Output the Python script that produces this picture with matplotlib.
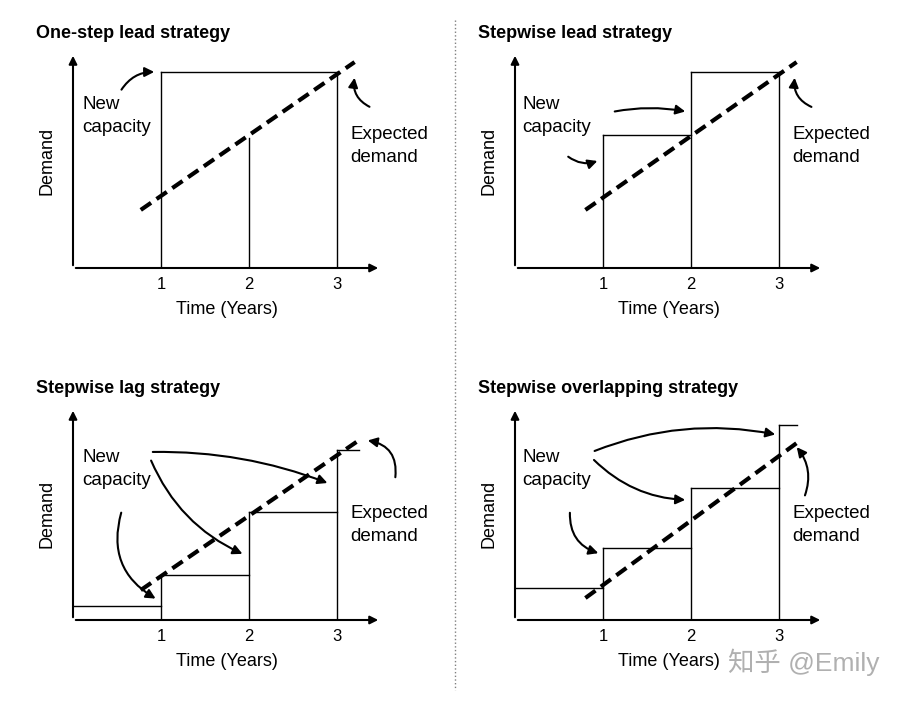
import matplotlib.pyplot as plt
from matplotlib.patches import FancyArrowPatch

plt.rcParams['font.family'] = ['Liberation Sans', 'Noto Sans CJK SC', 'DejaVu Sans']

TITLES = ['One-step lead strategy', 'Stepwise lead strategy',
          'Stepwise lag strategy', 'Stepwise overlapping strategy']
# panel origins in pixels (x, y)
ORIGINS = [(73, 268), (515, 268), (73, 620), (515, 620)]
PX_PER_UNIT = 88.0

# capacity steps: (x_start, x_end, level)
CAPACITY = [
    [(1, 3, 2.23)],
    [(1, 2, 1.51), (2, 3, 2.23)],
    [(0, 1, 0.16), (1, 2, 0.51), (2, 3, 1.23), (3, 3.25, 1.93)],
    [(0, 1, 0.36), (1, 2, 0.82), (2, 3, 1.50), (3, 3.2, 2.22)],
]
# expected demand line: (x0, y0, x1, y1)
DEMAND = [
    (0.77, 0.66, 3.2, 2.34),
    (0.80, 0.66, 3.2, 2.34),
    (0.77, 0.34, 3.26, 2.05),
    (0.80, 0.25, 3.2, 2.01),
]
# extra vertical line in panel 1 at year 2
EXTRA_V = [(2, 1.48)]

# annotation arrows in pixels: (start, target, rad)
NEW_ARROWS = [
    [((120, 92), (157, 72), -0.3)],
    [((612, 112), (688, 112), -0.1), ((566, 155), (600, 160), 0.3)],
    [((150, 452), (330, 484), -0.1), ((150, 458), (245, 555), 0.2), ((122, 510), (158, 600), 0.4)],
    [((592, 452), (778, 435), -0.15), ((592, 458), (688, 500), 0.2), ((570, 510), (601, 554), 0.4)],
]
EXP_ARROWS = [
    ((372, 108), (355, 75), -0.4),
    ((814, 108), (795, 75), -0.4),
    ((395, 480), (365, 440), 0.5),
    ((804, 498), (795, 445), 0.3),
]
NEW_POS = [(82, 96), (522, 96), (82, 449), (522, 449)]
EXP_POS = [(350, 146), (792, 146), (350, 525), (792, 525)]

W, H = 908, 702
fig = plt.figure(figsize=(W / 100, H / 100), dpi=100)

def f(px, py):
    return px / W, 1 - py / H

def arrow(s, t, rad):
    fig.add_artist(FancyArrowPatch(f(*s), f(*t), transform=fig.transFigure,
                                   connectionstyle=f'arc3,rad={rad}', arrowstyle='-|>',
                                   mutation_scale=14, color='black', lw=1.5))

for i in range(4):
    ox, oy = ORIGINS[i]
    xmax, ymax = 3.5, (oy - (53 if i < 2 else 408)) / PX_PER_UNIT
    ax = fig.add_axes([ox / W, 1 - oy / H, xmax * PX_PER_UNIT / W, ymax * PX_PER_UNIT / H])
    ax.set_xlim(0, xmax)
    ax.set_ylim(0, ymax)
    ax.axis('off')
    ap = dict(arrowstyle='-|>', color='black', lw=1.5, mutation_scale=12)
    ax.annotate('', xy=(xmax, 0), xytext=(0, 0), arrowprops=ap, annotation_clip=False)
    ax.annotate('', xy=(0, ymax), xytext=(0, 0), arrowprops=ap, annotation_clip=False)
    for t in (1, 2, 3):
        ax.text(t, -0.1, str(t), ha='center', va='top', fontsize=12)
    ax.text(1.75, -0.38, 'Time (Years)', ha='center', va='top', fontsize=13)
    ax.text(-0.3, ymax * 0.5, 'Demand', rotation=90, ha='center', va='center', fontsize=13)
    ax.text(-0.42, ymax + 0.12, TITLES[i], fontsize=13, fontweight='bold',
            ha='left', va='bottom')

    for x0, x1, lvl in CAPACITY[i]:
        ax.plot([x0, x1], [lvl, lvl], color='black', lw=1)
        if x0 > 0:
            ax.plot([x0, x0], [0, lvl], color='black', lw=1)
    if i < 2:
        last = CAPACITY[i][-1]
        ax.plot([last[1], last[1]], [0, last[2]], color='black', lw=1)
    if i == 0:
        for x, h in EXTRA_V:
            ax.plot([x, x], [0, h], color='black', lw=1)
    x0, y0, x1, y1 = DEMAND[i]
    ax.plot([x0, x1], [y0, y1], color='black', lw=3, ls=(0, (3, 1.6)))

    for (s, t, rad) in NEW_ARROWS[i]:
        arrow(s, t, rad)
    arrow(*EXP_ARROWS[i])
    fig.text(*f(*NEW_POS[i]), 'New\ncapacity', fontsize=13.5, va='top', ha='left',
             linespacing=1.45)
    fig.text(*f(*EXP_POS[i]), 'Expected\ndemand', fontsize=13.5, va='center', ha='left',
             linespacing=1.45)

fig.add_artist(plt.Line2D([455 / W, 455 / W], [1 - 20 / H, 1 - 690 / H],
                          transform=fig.transFigure, color='gray', lw=1, ls=':'))
fig.text(*f(728, 662), '知乎 @Emily', fontsize=19, color='#b0b0b0', va='center', ha='left')

fig.savefig('out.png', dpi=100)
